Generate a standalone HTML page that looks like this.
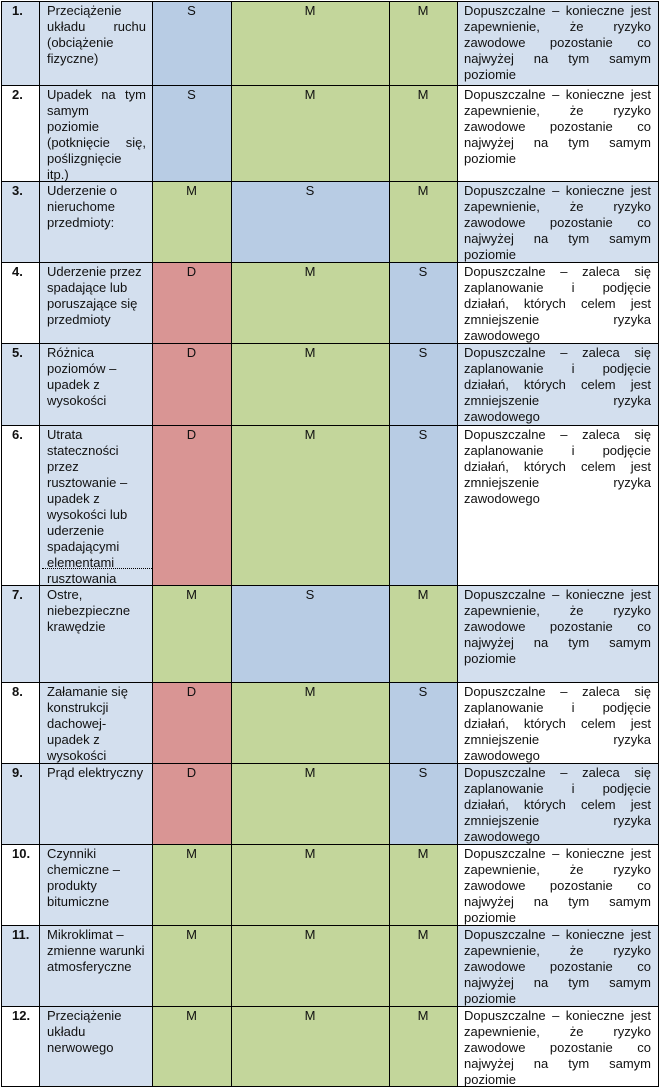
<!DOCTYPE html>
<html><head><meta charset="utf-8">
<style>
html,body{margin:0;padding:0;background:#fff}
#t{position:relative;width:663px;height:1088px;overflow:hidden;background:#fff}
.c{position:absolute}
.lb{background:#d3dfee}.wh{background:#fff}.bl{background:#b8cce4}.gr{background:#c3d69b}.rd{background:#d99594}
.x{position:absolute;font-family:"Liberation Sans",Arial,sans-serif;font-size:13px;line-height:16px;color:#111;white-space:nowrap}
.x div{height:16px}
.j{text-align:justify;text-align-last:justify}
.ctr{text-align:center}
.b{font-weight:bold}
.hl{position:absolute;left:1px;width:658px;height:1px;background:#000}
.vl{position:absolute;top:1px;width:1px;height:1086px;background:#000}
.n{left:12px}
.d{left:47px;width:99px}
.l{left:464px;width:187px}
.m1{left:152px;width:79px}
.m2{left:231px;width:158px}
.m3{left:389px;width:68px}
</style></head><body>
<div id="t">
<!-- description column background -->
<div class="c lb" style="left:39px;top:1px;width:113px;height:1085px"></div>

<!-- Row backgrounds -->
<!-- row1 -->
<div class="c lb" style="left:1px;top:1px;width:38px;height:84px"></div>
<div class="c bl" style="left:152px;top:1px;width:79px;height:84px"></div>
<div class="c gr" style="left:231px;top:1px;width:158px;height:84px"></div>
<div class="c gr" style="left:389px;top:1px;width:68px;height:84px"></div>
<div class="c lb" style="left:457px;top:1px;width:201px;height:84px"></div>
<!-- row2 -->
<div class="c wh" style="left:1px;top:85px;width:38px;height:96px"></div>
<div class="c bl" style="left:152px;top:85px;width:79px;height:96px"></div>
<div class="c gr" style="left:231px;top:85px;width:158px;height:96px"></div>
<div class="c gr" style="left:389px;top:85px;width:68px;height:96px"></div>
<div class="c wh" style="left:457px;top:85px;width:201px;height:96px"></div>
<!-- row3 -->
<div class="c lb" style="left:1px;top:181px;width:38px;height:81px"></div>
<div class="c gr" style="left:152px;top:181px;width:79px;height:81px"></div>
<div class="c bl" style="left:231px;top:181px;width:158px;height:81px"></div>
<div class="c gr" style="left:389px;top:181px;width:68px;height:81px"></div>
<div class="c lb" style="left:457px;top:181px;width:201px;height:81px"></div>
<!-- row4 -->
<div class="c wh" style="left:1px;top:262px;width:38px;height:81px"></div>
<div class="c rd" style="left:152px;top:262px;width:79px;height:81px"></div>
<div class="c gr" style="left:231px;top:262px;width:158px;height:81px"></div>
<div class="c bl" style="left:389px;top:262px;width:68px;height:81px"></div>
<div class="c wh" style="left:457px;top:262px;width:201px;height:81px"></div>
<!-- row5 -->
<div class="c lb" style="left:1px;top:343px;width:38px;height:82px"></div>
<div class="c rd" style="left:152px;top:343px;width:79px;height:82px"></div>
<div class="c gr" style="left:231px;top:343px;width:158px;height:82px"></div>
<div class="c bl" style="left:389px;top:343px;width:68px;height:82px"></div>
<div class="c lb" style="left:457px;top:343px;width:201px;height:82px"></div>
<!-- row6 -->
<div class="c wh" style="left:1px;top:425px;width:38px;height:160px"></div>
<div class="c rd" style="left:152px;top:425px;width:79px;height:160px"></div>
<div class="c gr" style="left:231px;top:425px;width:158px;height:160px"></div>
<div class="c bl" style="left:389px;top:425px;width:68px;height:160px"></div>
<div class="c wh" style="left:457px;top:425px;width:201px;height:160px"></div>
<!-- row7 -->
<div class="c lb" style="left:1px;top:585px;width:38px;height:97px"></div>
<div class="c gr" style="left:152px;top:585px;width:79px;height:97px"></div>
<div class="c bl" style="left:231px;top:585px;width:158px;height:97px"></div>
<div class="c gr" style="left:389px;top:585px;width:68px;height:97px"></div>
<div class="c lb" style="left:457px;top:585px;width:201px;height:97px"></div>
<!-- row8 -->
<div class="c wh" style="left:1px;top:682px;width:38px;height:81px"></div>
<div class="c rd" style="left:152px;top:682px;width:79px;height:81px"></div>
<div class="c gr" style="left:231px;top:682px;width:158px;height:81px"></div>
<div class="c bl" style="left:389px;top:682px;width:68px;height:81px"></div>
<div class="c wh" style="left:457px;top:682px;width:201px;height:81px"></div>
<!-- row9 -->
<div class="c lb" style="left:1px;top:763px;width:38px;height:81px"></div>
<div class="c rd" style="left:152px;top:763px;width:79px;height:81px"></div>
<div class="c gr" style="left:231px;top:763px;width:158px;height:81px"></div>
<div class="c bl" style="left:389px;top:763px;width:68px;height:81px"></div>
<div class="c lb" style="left:457px;top:763px;width:201px;height:81px"></div>
<!-- row10 -->
<div class="c wh" style="left:1px;top:844px;width:38px;height:81px"></div>
<div class="c gr" style="left:152px;top:844px;width:79px;height:81px"></div>
<div class="c gr" style="left:231px;top:844px;width:158px;height:81px"></div>
<div class="c gr" style="left:389px;top:844px;width:68px;height:81px"></div>
<div class="c wh" style="left:457px;top:844px;width:201px;height:81px"></div>
<!-- row11 -->
<div class="c lb" style="left:1px;top:925px;width:38px;height:81px"></div>
<div class="c gr" style="left:152px;top:925px;width:79px;height:81px"></div>
<div class="c gr" style="left:231px;top:925px;width:158px;height:81px"></div>
<div class="c gr" style="left:389px;top:925px;width:68px;height:81px"></div>
<div class="c lb" style="left:457px;top:925px;width:201px;height:81px"></div>
<!-- row12 -->
<div class="c wh" style="left:1px;top:1006px;width:38px;height:80px"></div>
<div class="c gr" style="left:152px;top:1006px;width:79px;height:80px"></div>
<div class="c gr" style="left:231px;top:1006px;width:158px;height:80px"></div>
<div class="c gr" style="left:389px;top:1006px;width:68px;height:80px"></div>
<div class="c wh" style="left:457px;top:1006px;width:201px;height:80px"></div>

<!-- Row 1 text -->
<div class="x b n" style="top:3px">1.</div>
<div class="x d" style="top:3px"><div>Przeciążenie</div><div class="j">układu ruchu</div><div>(obciążenie</div><div>fizyczne)</div></div>
<div class="x ctr m1" style="top:3px">S</div>
<div class="x ctr m2" style="top:3px">M</div>
<div class="x ctr m3" style="top:3px">M</div>
<div class="x l" style="top:3px"><div class="j">Dopuszczalne – konieczne jest</div><div class="j">zapewnienie, że ryzyko</div><div class="j">zawodowe pozostanie co</div><div class="j">najwyżej na tym samym</div><div>poziomie</div></div>

<!-- Row 2 -->
<div class="x b n" style="top:87px">2.</div>
<div class="x d" style="top:87px"><div class="j">Upadek na tym</div><div>samym</div><div>poziomie</div><div class="j">(potknięcie się,</div><div>poślizgnięcie</div><div>itp.)</div></div>
<div class="x ctr m1" style="top:87px">S</div>
<div class="x ctr m2" style="top:87px">M</div>
<div class="x ctr m3" style="top:87px">M</div>
<div class="x l" style="top:87px"><div class="j">Dopuszczalne – konieczne jest</div><div class="j">zapewnienie, że ryzyko</div><div class="j">zawodowe pozostanie co</div><div class="j">najwyżej na tym samym</div><div>poziomie</div></div>

<!-- Row 3 -->
<div class="x b n" style="top:183px">3.</div>
<div class="x d" style="top:183px"><div>Uderzenie o</div><div>nieruchome</div><div>przedmioty:</div></div>
<div class="x ctr m1" style="top:183px">M</div>
<div class="x ctr m2" style="top:183px">S</div>
<div class="x ctr m3" style="top:183px">M</div>
<div class="x l" style="top:183px"><div class="j">Dopuszczalne – konieczne jest</div><div class="j">zapewnienie, że ryzyko</div><div class="j">zawodowe pozostanie co</div><div class="j">najwyżej na tym samym</div><div>poziomie</div></div>

<!-- Row 4 -->
<div class="x b n" style="top:264px">4.</div>
<div class="x d" style="top:264px"><div>Uderzenie przez</div><div>spadające lub</div><div>poruszające się</div><div>przedmioty</div></div>
<div class="x ctr m1" style="top:264px">D</div>
<div class="x ctr m2" style="top:264px">M</div>
<div class="x ctr m3" style="top:264px">S</div>
<div class="x l" style="top:264px"><div class="j">Dopuszczalne – zaleca się</div><div class="j">zaplanowanie i podjęcie</div><div class="j">działań, których celem jest</div><div class="j">zmniejszenie ryzyka</div><div>zawodowego</div></div>

<!-- Row 5 -->
<div class="x b n" style="top:345px">5.</div>
<div class="x d" style="top:345px"><div>Różnica</div><div>poziomów –</div><div>upadek z</div><div>wysokości</div></div>
<div class="x ctr m1" style="top:345px">D</div>
<div class="x ctr m2" style="top:345px">M</div>
<div class="x ctr m3" style="top:345px">S</div>
<div class="x l" style="top:345px"><div class="j">Dopuszczalne – zaleca się</div><div class="j">zaplanowanie i podjęcie</div><div class="j">działań, których celem jest</div><div class="j">zmniejszenie ryzyka</div><div>zawodowego</div></div>

<!-- Row 6 -->
<div class="x b n" style="top:427px">6.</div>
<div class="x d" style="top:427px"><div>Utrata</div><div>stateczności</div><div>przez</div><div>rusztowanie –</div><div>upadek z</div><div>wysokości lub</div><div>uderzenie</div><div>spadającymi</div><div>elementami</div><div>rusztowania</div></div>
<div class="c" style="left:42px;top:568px;width:110px;height:0;border-top:1px dotted #000"></div>
<div class="x ctr m1" style="top:427px">D</div>
<div class="x ctr m2" style="top:427px">M</div>
<div class="x ctr m3" style="top:427px">S</div>
<div class="x l" style="top:427px"><div class="j">Dopuszczalne – zaleca się</div><div class="j">zaplanowanie i podjęcie</div><div class="j">działań, których celem jest</div><div class="j">zmniejszenie ryzyka</div><div>zawodowego</div></div>

<!-- Row 7 -->
<div class="x b n" style="top:587px">7.</div>
<div class="x d" style="top:587px"><div>Ostre,</div><div>niebezpieczne</div><div>krawędzie</div></div>
<div class="x ctr m1" style="top:587px">M</div>
<div class="x ctr m2" style="top:587px">S</div>
<div class="x ctr m3" style="top:587px">M</div>
<div class="x l" style="top:587px"><div class="j">Dopuszczalne – konieczne jest</div><div class="j">zapewnienie, że ryzyko</div><div class="j">zawodowe pozostanie co</div><div class="j">najwyżej na tym samym</div><div>poziomie</div></div>

<!-- Row 8 -->
<div class="x b n" style="top:684px">8.</div>
<div class="x d" style="top:684px"><div>Załamanie się</div><div>konstrukcji</div><div>dachowej-</div><div>upadek z</div><div>wysokości</div></div>
<div class="x ctr m1" style="top:684px">D</div>
<div class="x ctr m2" style="top:684px">M</div>
<div class="x ctr m3" style="top:684px">S</div>
<div class="x l" style="top:684px"><div class="j">Dopuszczalne – zaleca się</div><div class="j">zaplanowanie i podjęcie</div><div class="j">działań, których celem jest</div><div class="j">zmniejszenie ryzyka</div><div>zawodowego</div></div>

<!-- Row 9 -->
<div class="x b n" style="top:765px">9.</div>
<div class="x d" style="top:765px"><div>Prąd elektryczny</div></div>
<div class="x ctr m1" style="top:765px">D</div>
<div class="x ctr m2" style="top:765px">M</div>
<div class="x ctr m3" style="top:765px">S</div>
<div class="x l" style="top:765px"><div class="j">Dopuszczalne – zaleca się</div><div class="j">zaplanowanie i podjęcie</div><div class="j">działań, których celem jest</div><div class="j">zmniejszenie ryzyka</div><div>zawodowego</div></div>

<!-- Row 10 -->
<div class="x b n" style="top:846px">10.</div>
<div class="x d" style="top:846px"><div>Czynniki</div><div>chemiczne –</div><div>produkty</div><div>bitumiczne</div></div>
<div class="x ctr m1" style="top:846px">M</div>
<div class="x ctr m2" style="top:846px">M</div>
<div class="x ctr m3" style="top:846px">M</div>
<div class="x l" style="top:846px"><div class="j">Dopuszczalne – konieczne jest</div><div class="j">zapewnienie, że ryzyko</div><div class="j">zawodowe pozostanie co</div><div class="j">najwyżej na tym samym</div><div>poziomie</div></div>

<!-- Row 11 -->
<div class="x b n" style="top:927px">11.</div>
<div class="x d" style="top:927px"><div>Mikroklimat –</div><div>zmienne warunki</div><div>atmosferyczne</div></div>
<div class="x ctr m1" style="top:927px">M</div>
<div class="x ctr m2" style="top:927px">M</div>
<div class="x ctr m3" style="top:927px">M</div>
<div class="x l" style="top:927px"><div class="j">Dopuszczalne – konieczne jest</div><div class="j">zapewnienie, że ryzyko</div><div class="j">zawodowe pozostanie co</div><div class="j">najwyżej na tym samym</div><div>poziomie</div></div>

<!-- Row 12 -->
<div class="x b n" style="top:1008px">12.</div>
<div class="x d" style="top:1008px"><div>Przeciążenie</div><div>układu</div><div>nerwowego</div></div>
<div class="x ctr m1" style="top:1008px">M</div>
<div class="x ctr m2" style="top:1008px">M</div>
<div class="x ctr m3" style="top:1008px">M</div>
<div class="x l" style="top:1008px"><div class="j">Dopuszczalne – konieczne jest</div><div class="j">zapewnienie, że ryzyko</div><div class="j">zawodowe pozostanie co</div><div class="j">najwyżej na tym samym</div><div>poziomie</div></div>

<!-- Grid lines -->
<div class="hl" style="top:1px"></div>
<div class="hl" style="top:85px"></div>
<div class="hl" style="top:181px"></div>
<div class="hl" style="top:262px"></div>
<div class="hl" style="top:343px"></div>
<div class="hl" style="top:425px"></div>
<div class="hl" style="top:585px"></div>
<div class="hl" style="top:682px"></div>
<div class="hl" style="top:763px"></div>
<div class="hl" style="top:844px"></div>
<div class="hl" style="top:925px"></div>
<div class="hl" style="top:1006px"></div>
<div class="hl" style="top:1086px"></div>
<div class="vl" style="left:1px"></div>
<div class="vl" style="left:39px"></div>
<div class="vl" style="left:152px"></div>
<div class="vl" style="left:231px"></div>
<div class="vl" style="left:389px"></div>
<div class="vl" style="left:457px"></div>
<div class="vl" style="left:658px"></div>
</div>
</body></html>
